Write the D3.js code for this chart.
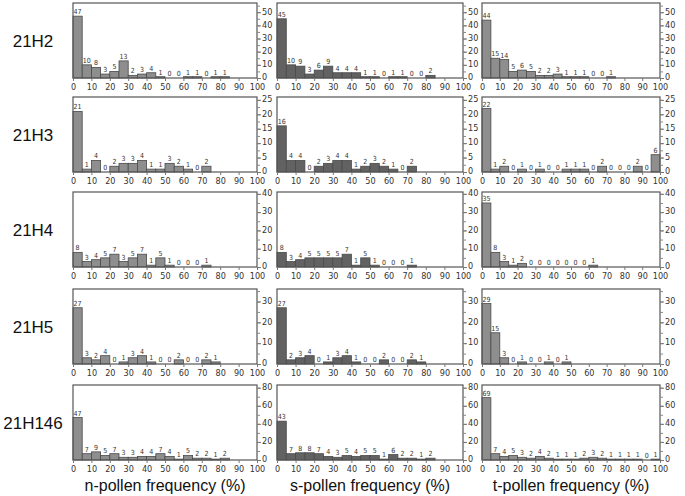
<!DOCTYPE html>
<html lang="en">
<head>
<meta charset="UTF-8">
<title>Pollen frequency histograms</title>
<script src="https://d3js.org/d3.v7.min.js"></script>
<style>
  body { margin: 0; background: #fff; }
  svg { display: block; }
</style>
</head>
<body>
<div id="chart"></div>
<script>
// bins of 5 % from 0 to 100
const binStarts = [0, 5, 10, 15, 20, 25, 30, 35, 40, 45, 50, 55, 60, 65, 70, 75, 80, 85, 90, 95];
const genotypes = ["21H2", "21H3", "21H4", "21H5", "21H146"];
const pollenTypes = ["n-pollen frequency (%)", "s-pollen frequency (%)", "t-pollen frequency (%)"];

// counts per bin (only up to the last labelled bin)
const n21H2 = [47, 10, 8, 3, 5, 13, 2, 3, 4, 1, 0, 0, 1, 1, 0, 1, 1];
const s21H2 = [45, 10, 9, 3, 6, 9, 4, 4, 4, 1, 1, 0, 1, 1, 0, 0, 2];
const t21H2 = [44, 15, 14, 5, 6, 5, 2, 2, 3, 1, 1, 1, 0, 0, 1];

const n21H3 = [21, 1, 4, 0, 2, 3, 3, 4, 1, 1, 3, 2, 1, 0, 2];
const s21H3 = [16, 4, 4, 0, 2, 3, 4, 4, 1, 2, 3, 2, 1, 0, 2];
const t21H3 = [22, 1, 2, 0, 1, 0, 1, 0, 0, 1, 1, 1, 0, 2, 0, 0, 0, 2, 0, 6];

const n21H4 = [8, 3, 4, 5, 7, 3, 5, 7, 1, 5, 1, 0, 0, 0, 1];
const s21H4 = [8, 3, 4, 5, 5, 5, 5, 7, 1, 5, 1, 0, 0, 0, 1];
const t21H4 = [35, 8, 3, 1, 2, 0, 0, 0, 0, 0, 0, 0, 1];

const n21H5 = [27, 3, 2, 4, 0, 1, 3, 4, 1, 0, 0, 2, 0, 0, 2, 1];
const s21H5 = [27, 2, 3, 4, 0, 1, 3, 4, 1, 0, 0, 2, 0, 0, 2, 1];
const t21H5 = [29, 15, 3, 0, 1, 0, 0, 1, 0, 1];

const n21H146 = [47, 7, 9, 5, 7, 3, 3, 4, 4, 7, 4, 1, 5, 2, 2, 1, 2];
const s21H146 = [43, 7, 8, 8, 7, 4, 3, 5, 4, 5, 5, 1, 6, 2, 2, 1, 2];
const t21H146 = [69, 7, 4, 5, 3, 2, 4, 2, 1, 1, 1, 2, 3, 2, 1, 1, 1, 1, 0, 1];

const rowMax = [57, 26, 41, 36, 83];
const rowTicks = [
  [0, 10, 20, 30, 40, 50],
  [0, 5, 10, 15, 20, 25],
  [0, 10, 20, 30, 40],
  [0, 10, 20, 30],
  [0, 20, 40, 60, 80]
];
const xTicks = [0, 10, 20, 30, 40, 50, 60, 70, 80, 90, 100];

const grid = [
  [n21H2, s21H2, t21H2],
  [n21H3, s21H3, t21H3],
  [n21H4, s21H4, t21H4],
  [n21H5, s21H5, t21H5],
  [n21H146, s21H146, t21H146]
];

const width = 685, height = 496;
const colLeft = [73, 277, 482];
const colWidth = [184, 186, 178];
const rowTop = [3, 97, 192, 289, 385];
const panelH = 75;
const barFill = ["#8e8e8e", "#626262", "#8e8e8e"];
const tickFont = "DejaVu Sans Condensed, DejaVu Sans, sans-serif";

const svg = d3.select("#chart").append("svg")
  .attr("width", width)
  .attr("height", height);

grid.forEach((row, r) => {
  // row label
  svg.append("text")
    .attr("x", 33)
    .attr("y", rowTop[r] + 44)
    .attr("text-anchor", "middle")
    .attr("font-family", "Liberation Sans, Arial, sans-serif")
    .attr("font-size", 17)
    .attr("fill", "#111")
    .text(genotypes[r]);

  row.forEach((counts, c) => {
    const x = d3.scaleLinear().domain([0, 100]).range([0, colWidth[c]]);
    const y = d3.scaleLinear().domain([0, rowMax[r]]).range([panelH, 0]);

    const g = svg.append("g")
      .attr("transform", "translate(" + colLeft[c] + "," + rowTop[r] + ")");

    const bins = counts.map((v, i) => ({ x0: binStarts[i], v: v }));

    g.selectAll(".bar")
      .data(bins)
      .enter()
      .append("rect")
      .attr("class", "bar")
      .attr("x", d => x(d.x0))
      .attr("y", d => y(d.v))
      .attr("width", d => x(d.x0 + 5) - x(d.x0))
      .attr("height", d => panelH - y(d.v))
      .attr("fill", barFill[c])
      .attr("stroke", "#4a4a4a")
      .attr("stroke-width", 0.8);

    g.selectAll(".lbl")
      .data(bins)
      .enter()
      .append("text")
      .attr("class", "lbl")
      .attr("x", d => x(d.x0 + 2.5))
      .attr("y", d => y(d.v) - 2)
      .attr("text-anchor", "middle")
      .attr("font-family", tickFont)
      .attr("font-size", 7)
      .attr("fill", "#333")
      .text(d => d.v);

    // frame
    g.append("rect")
      .attr("width", colWidth[c])
      .attr("height", panelH)
      .attr("fill", "none")
      .attr("stroke", "#555")
      .attr("stroke-width", 1.2);

    // bottom axis
    const xAxis = g.append("g")
      .attr("transform", "translate(0," + panelH + ")")
      .call(d3.axisBottom(x).tickValues(xTicks).tickSize(3).tickPadding(3));
    xAxis.select(".domain").remove();
    xAxis.selectAll("line").attr("stroke", "#777");
    xAxis.selectAll("text")
      .attr("font-family", tickFont)
      .attr("font-size", 9)
      .attr("fill", "#333");

    // right axis, minor then major ticks
    const step = rowTicks[r][1] - rowTicks[r][0];
    const minor = d3.range(0, rowMax[r], step / 2);
    g.append("g")
      .attr("transform", "translate(" + colWidth[c] + ",0)")
      .call(d3.axisRight(y).tickValues(minor).tickSize(3).tickFormat(""))
      .call(a => a.select(".domain").remove())
      .selectAll("line").attr("stroke", "#888");

    const yAxis = g.append("g")
      .attr("transform", "translate(" + colWidth[c] + ",0)")
      .call(d3.axisRight(y).tickValues(rowTicks[r]).tickSize(4).tickPadding(1));
    yAxis.select(".domain").remove();
    yAxis.selectAll("line").attr("stroke", "#777");
    yAxis.selectAll("text")
      .attr("font-family", tickFont)
      .attr("font-size", 9)
      .attr("dy", "0.2em")
      .attr("fill", "#333");
  });
});

// column titles
pollenTypes.forEach((t, c) => {
  svg.append("text")
    .attr("x", colLeft[c] + colWidth[c] / 2)
    .attr("y", 491)
    .attr("text-anchor", "middle")
    .attr("font-family", "Liberation Sans, Arial, sans-serif")
    .attr("font-size", 16)
    .attr("fill", "#111")
    .text(t);
});
</script>
</body>
</html>
